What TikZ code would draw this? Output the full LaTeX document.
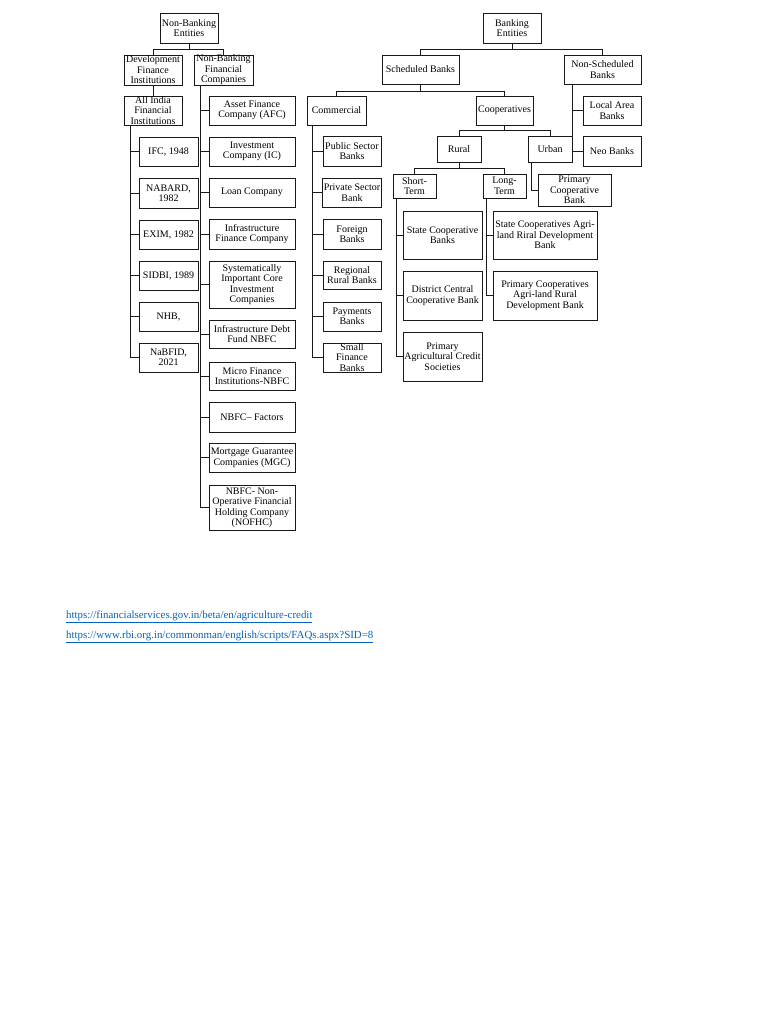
\documentclass[tikz,border=0pt]{standalone}
\usepackage{fontspec}
\setmainfont{Liberation Serif}
\usepackage{tikz}
\usetikzlibrary{calc}
\usepackage{xcolor}
\definecolor{linecolor}{RGB}{25,25,25}
\definecolor{linkcolor}{RGB}{5,99,193}

\begin{document}
\begin{tikzpicture}[x=1pt, y=-1pt,
    every node/.style={font=\fontsize{10}{10.5}\selectfont},
    ent/.style={draw=linecolor, line width=0.75pt, align=center, inner xsep=1pt, inner ysep=0pt},
    sz/.style 2 args={minimum width=#1, minimum height=#2},
    conn/.style={draw=linecolor, line width=0.75pt},
    src/.style={anchor=base west, inner sep=0pt, text=linkcolor, font=\fontsize{10.9}{12}\selectfont}]
  \useasboundingbox (0,0) rectangle (768,1024);
  \fill[white] (0,0) rectangle (768,1024);

  % Non-banking side
  \node[ent, sz={58}{30}] (nbe)  at (189,28)    {Non-Banking\\Entities};
  \node[ent, sz={58}{30}] (dfi)  at (153,70)    {Development\\Finance\\Institutions};
  \node[ent, sz={59}{30}] (nbfc) at (223.5,70)  {Non-Banking\\Financial\\Companies};
  \node[ent, sz={58}{29}] (aifi) at (153,110.5) {All India\\Financial\\Institutions};

  % DFI column
  \node[ent, sz={59}{29}] (ifc)    at (168.5,151.5) {IFC, 1948};
  \node[ent, sz={59}{30}] (nabard) at (168.5,193)   {NABARD,\\1982};
  \node[ent, sz={59}{29}] (exim)   at (168.5,234.5) {EXIM, 1982};
  \node[ent, sz={59}{29}] (sidbi)  at (168.5,275.5) {SIDBI, 1989};
  \node[ent, sz={59}{29}] (nhb)    at (168.5,316.5) {NHB,};
  \node[ent, sz={59}{29}] (nabfid) at (168.5,357.5) {NaBFID,\\2021};

  % NBFC column
  \node[ent, sz={86}{29}] (afc)     at (252,110.5) {Asset Finance\\Company (AFC)};
  \node[ent, sz={86}{29}] (icomp)   at (252,151.5) {Investment\\Company (IC)};
  \node[ent, sz={86}{29}] (loan)    at (252,192.5) {Loan Company};
  \node[ent, sz={86}{30}] (infra)   at (252,234)   {Infrastructure\\Finance Company};
  \node[ent, sz={86}{47}] (sicic)   at (252,284.5) {Systematically\\Important Core\\Investment\\Companies};
  \node[ent, sz={86}{28}] (idf)     at (252,334)   {Infrastructure Debt\\Fund NBFC};
  \node[ent, sz={86}{28}] (mfi)     at (252,376)   {Micro Finance\\Institutions-NBFC};
  \node[ent, sz={86}{30}] (factors) at (252,417)   {NBFC-- Factors};
  \node[ent, sz={86}{29}] (mgc)     at (252,457.5) {Mortgage Guarantee\\Companies (MGC)};
  \node[ent, sz={86}{45}] (nofhc)   at (252,507.5) {NBFC- Non-\\Operative Financial\\Holding Company\\(NOFHC)};

  % Banking side
  \node[ent, sz={58}{30}] (be)       at (512,28)    {Banking\\Entities};
  \node[ent, sz={77}{29}] (sched)    at (420.5,69.5) {Scheduled Banks};
  \node[ent, sz={77}{29}] (nonsched) at (602.5,69.5) {Non-Scheduled\\Banks};
  \node[ent, sz={59}{29}] (comm)     at (336.5,110.5) {Commercial};
  \node[ent, sz={57}{29}] (coop)     at (504.5,110.5) {Cooperatives};
  \node[ent, sz={58}{29}] (lab)      at (612,110.5)   {Local Area\\Banks};
  \node[ent, sz={44}{26}] (rural)    at (459,149.5)   {Rural};
  \node[ent, sz={44}{26}] (urban)    at (550,149.5)   {Urban};
  \node[ent, sz={58}{30}] (neo)      at (612,151.5)   {Neo Banks};

  % Commercial column
  \node[ent, sz={58}{30}] (psb)     at (352,151)   {Public Sector\\Banks};
  \node[ent, sz={58}{29}] (pvt)     at (352,192.5) {Private Sector\\Bank};
  \node[ent, sz={58}{30}] (foreign) at (352,234)   {Foreign\\Banks};
  \node[ent, sz={58}{28}] (rrb)     at (352,275)   {Regional\\Rural Banks};
  \node[ent, sz={58}{29}] (pay)     at (352,316.5) {Payments\\Banks};
  \node[ent, sz={58}{29}] (sfb)     at (352,357.5) {Small\\Finance\\Banks};

  % Cooperative tree
  \node[ent, sz={43}{24}]  (short)  at (414.5,186) {Short-\\Term};
  \node[ent, sz={43}{24}]  (long)   at (504.5,186) {Long-\\Term};
  \node[ent, sz={73}{32}]  (pcb)    at (574.5,190) {Primary\\Cooperative\\Bank};
  \node[ent, sz={79}{48}]  (scb)    at (442.5,235)   {State Cooperative\\Banks};
  \node[ent, sz={79}{49}]  (dccb)   at (442.5,295.5) {District Central\\Cooperative Bank};
  \node[ent, sz={79}{49}]  (pacs)   at (442.5,356.5) {Primary\\Agricultural Credit\\Societies};
  \node[ent, sz={104}{48}] (scardb) at (545,235)     {State Cooperatives Agri-\\land Riral Development\\Bank};
  \node[ent, sz={104}{49}] (pcardb) at (545,295.5)   {Primary Cooperatives\\Agri-land Rural\\Development Bank};

  % Connectors
  \draw[conn] (nbe.south) -- ++(0,6) -| (dfi.north);
  \draw[conn] (nbe.south) -- ++(0,6) -| (nbfc.north);
  \draw[conn] (dfi) -- (aifi);
  \foreach \c in {ifc,nabard,exim,sidbi,nhb,nabfid}
    \draw[conn] ([xshift=7pt]aifi.south west) |- (\c.west);
  \foreach \c in {afc,icomp,loan,infra,sicic,idf,mfi,factors,mgc,nofhc}
    \draw[conn] ([xshift=7pt]nbfc.south west) |- (\c.west);

  \draw[conn] (be.south) -- ++(0,6) -| (sched.north);
  \draw[conn] (be.south) -- ++(0,6) -| (nonsched.north);
  \draw[conn] (sched.south) -- ++(0,7) -| (comm.north);
  \draw[conn] (sched.south) -- ++(0,7) -| (coop.north);
  \foreach \c in {psb,pvt,foreign,rrb,pay,sfb}
    \draw[conn] ([xshift=6pt]comm.south west) |- (\c.west);
  \foreach \c in {lab,neo}
    \draw[conn] ([xshift=9pt]nonsched.south west) |- (\c.west);
  \draw[conn] (coop.south) -- ++(0,5) -| (rural.north);
  \draw[conn] (coop.south) -- ++(0,5) -| (urban.north);
  \draw[conn] (rural.south) -- ++(0,6) -| (short.north);
  \draw[conn] (rural.south) -- ++(0,6) -| (long.north);
  \draw[conn] ([xshift=4pt]urban.south west) |- (pcb.west);
  \foreach \c in {scb,dccb,pacs}
    \draw[conn] ([xshift=4pt]short.south west) |- (\c.west);
  \foreach \c in {scardb,pcardb}
    \draw[conn] ([xshift=4pt]long.south west) |- (\c.west);

  % Sources
  \node[src] (url1) at (66,618)
    {\underline{https://financialservices.gov.in/beta/en/agriculture-credit}};
  \node[src] (url2) at (66,638)
    {\underline{https://www.rbi.org.in/commonman/english/scripts/FAQs.aspx?SID=8}};
\end{tikzpicture}
\end{document}
